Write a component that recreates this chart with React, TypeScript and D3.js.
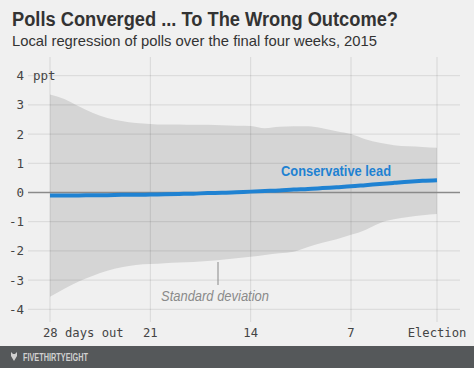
import React from "react";
import * as d3 from "d3";

const days = [28, 27, 26, 25, 24, 23, 22, 21, 20, 19, 18, 17, 16, 15, 14, 13, 12, 11, 10, 9, 8, 7, 6, 5, 4, 3, 2, 1];
const upperSD = [3.36, 3.2, 2.95, 2.72, 2.55, 2.45, 2.38, 2.35, 2.33, 2.33, 2.32, 2.32, 2.3, 2.29, 2.28, 2.2, 2.25, 2.27, 2.27, 2.2, 2.1, 2.0, 1.82, 1.7, 1.62, 1.58, 1.56, 1.53];
const lowerSD = [-3.57, -3.3, -3.05, -2.85, -2.68, -2.56, -2.48, -2.45, -2.42, -2.4, -2.38, -2.35, -2.3, -2.25, -2.2, -2.14, -2.08, -2.03, -1.87, -1.72, -1.6, -1.45, -1.28, -1.05, -0.92, -0.84, -0.78, -0.74];
const conservativeLead = [-0.1, -0.1, -0.1, -0.09, -0.09, -0.08, -0.08, -0.07, -0.06, -0.05, -0.04, -0.02, -0.01, 0.01, 0.03, 0.05, 0.07, 0.1, 0.12, 0.15, 0.18, 0.21, 0.25, 0.29, 0.33, 0.37, 0.4, 0.42];
const yTicks = [4, 3, 2, 1, 0, -1, -2, -3, -4];
const xTicks = [28, 21, 14, 7, 1];
const xTickLabels = ["28 days out", "21", "14", "7", "Election"];

const W = 474;
const H = 368;
const mono = "'DejaVu Sans Mono', monospace";
const sans = "'Liberation Sans', Arial, sans-serif";

export default function App() {
  const x = d3.scaleLinear().domain([28, 1]).range([50, 437]);
  const y = d3.scaleLinear().domain([-4, 4]).range([309.3, 75.7]);
  const area = d3
    .area<number>()
    .x((_, i) => x(days[i]))
    .y0((_, i) => y(lowerSD[i]))
    .y1((d) => y(d))
    .curve(d3.curveMonotoneX);
  const line = d3
    .line<number>()
    .x((_, i) => x(days[i]))
    .y((d) => y(d))
    .curve(d3.curveMonotoneX);

  return (
    <svg width={W} height={H} style={{ position: "absolute", left: 0, top: 0 }}>
      <rect x={0} y={0} width={W} height={H} fill="#f0f0f0" />
      <text x={12} y={26} fontFamily={sans} fontWeight="bold" fontSize={19.5} fill="#333" textLength={386} lengthAdjust="spacingAndGlyphs">
        Polls Converged ... To The Wrong Outcome?
      </text>
      <text x={12} y={46} fontFamily={sans} fontSize={14.8} fill="#333" textLength={365} lengthAdjust="spacingAndGlyphs">
        Local regression of polls over the final four weeks, 2015
      </text>
      <path d={area(upperSD) || ""} fill="#d5d5d5" />
      {yTicks.map((t) =>
        t === 0 ? null : (
          <line key={"h" + t} x1={28} x2={460} y1={y(t)} y2={y(t)} stroke="rgba(0,0,0,0.1)" strokeWidth={1} />
        )
      )}
      {xTicks.map((t) => (
        <line key={"v" + t} x1={x(t)} x2={x(t)} y1={57} y2={322} stroke="rgba(0,0,0,0.1)" strokeWidth={1} />
      ))}
      <line x1={28} x2={460} y1={y(0)} y2={y(0)} stroke="#8a8a8a" strokeWidth={1.5} />
      <path d={line(conservativeLead) || ""} fill="none" stroke="#1f82d2" strokeWidth={4} />
      {yTicks.map((t) => (
        <text key={"yl" + t} x={24} y={y(t) + 4.5} textAnchor="end" fontFamily={mono} fontSize={12.5} fill="#444">
          {t < 0 ? "-" + Math.abs(t) : String(t)}
        </text>
      ))}
      <text x={33} y={y(4) + 4.5} fontFamily={mono} fontSize={12.5} fill="#444">
        ppt
      </text>
      {xTicks.map((t, i) => (
        <text
          key={"xl" + t}
          x={i === 0 ? x(t) - 7 : x(t)}
          y={337}
          textAnchor={i === 0 ? "start" : "middle"}
          fontFamily={mono}
          fontSize={12.2}
          fill="#444"
        >
          {xTickLabels[i]}
        </text>
      ))}
      <text x={281} y={176} fontFamily={sans} fontWeight="bold" fontSize={14} fill="#1f82d2" textLength={110} lengthAdjust="spacingAndGlyphs">
        Conservative lead
      </text>
      <line x1={218} x2={218} y1={262} y2={285} stroke="#888" strokeWidth={1} />
      <text x={161} y={301} fontFamily={sans} fontStyle="italic" fontSize={14} fill="#8a8a8a" textLength={108} lengthAdjust="spacingAndGlyphs">
        Standard deviation
      </text>
      <rect x={0} y={346} width={W} height={22} fill="#55585a" />
      <path d="M11 352 L13 354 L15 354 L17 352 L17 356 L14 361 L11 356 Z" fill="#cfcfcf" />
      <text x={23} y={361} fontFamily={sans} fontWeight="bold" fontSize={10.5} fill="#d0d0d0" textLength={65} lengthAdjust="spacingAndGlyphs">
        FIVETHIRTYEIGHT
      </text>
    </svg>
  );
}
